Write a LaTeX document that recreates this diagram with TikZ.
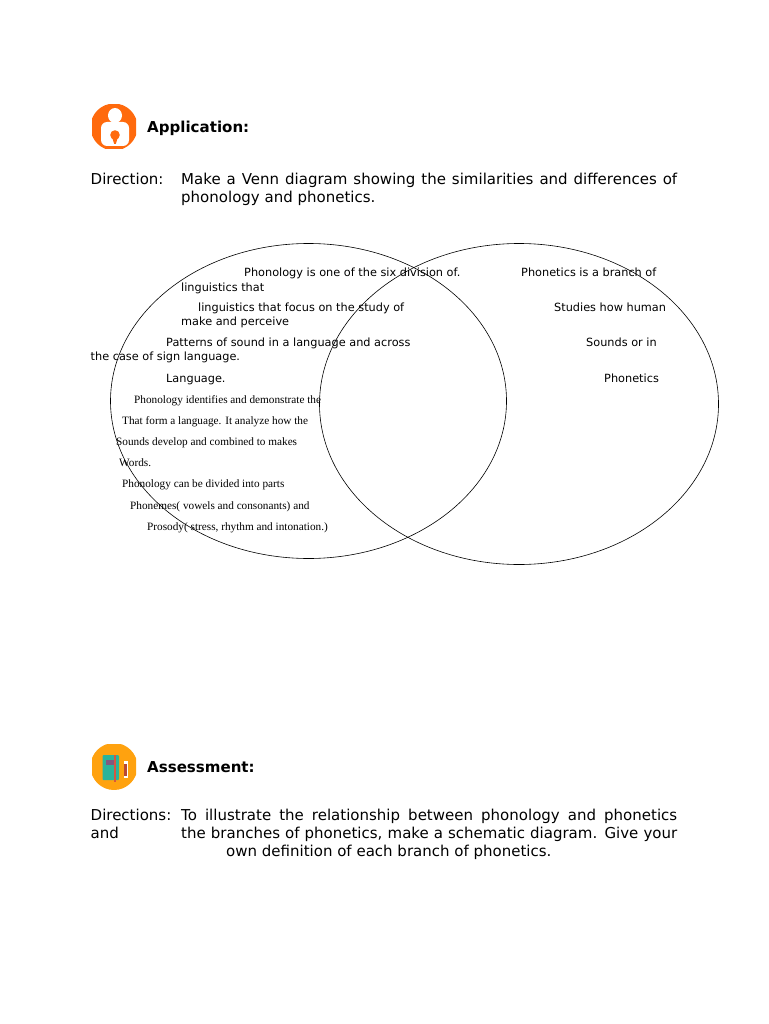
\documentclass[tikz,border=0pt]{standalone}
\usepackage{fontspec}
\setmainfont{DejaVu Sans}
\newfontfamily\bodyserif{Liberation Serif}
\definecolor{iconorange}{HTML}{FF6A0D}
\definecolor{iconamber}{HTML}{FFA20F}
\definecolor{bookteal}{HTML}{2BB39B}
\definecolor{bookred}{HTML}{D9553F}
\tikzset{
  heading/.style={anchor=base west,inner sep=0pt,font=\fontsize{15.05}{16}\selectfont\bfseries},
  bodytext/.style={anchor=base west,inner sep=0pt,font=\fontsize{15}{16}\selectfont},
  venntext/.style={anchor=base west,inner sep=0pt,font=\fontsize{11.3}{13}\selectfont},
  serifline/.style={anchor=base west,inner sep=0pt,font=\bodyserif\fontsize{11.25}{13}\selectfont},
  venn/.style={draw=black,line width=0.6pt}
}
\begin{document}
\begin{tikzpicture}[x=1pt,y=-1pt]
  \useasboundingbox[fill=white] (0,0) rectangle (768,1024);
  % application icon
  \begin{scope}
    \clip (92,105) rectangle (136,149);
    \fill[iconorange] (114,127) circle (23.5);
  \end{scope}
  \fill[white] (115,115.5) ellipse (7 and 7.5);
  \fill[white,rounded corners=6pt] (101,122) rectangle (129,146);
  \fill[iconorange] (115,135) circle (4.8);
  \fill[iconorange] (112,137) -- (118,137) -- (115.8,144) -- (114.2,144) -- cycle;
  % assessment icon
  \begin{scope}
    \clip (92,744) rectangle (136,789);
    \fill[iconamber] (114,766.5) circle (23.5);
  \end{scope}
  \fill[bookteal,rounded corners=1pt] (102.5,755) rectangle (119,780);
  \fill[gray!70!violet] (106,760) rectangle (115,765);
  \fill[bookred] (113.5,755) rectangle (115.5,782);
  \fill[white] (123.5,761) rectangle (127.5,778);
  \fill[bookred!85!black] (124,764) rectangle (127,776);
  % headings
  \node[heading] (apphead) at (147,132.5) {Application:};
  \node[heading] (assesshead) at (147,772) {Assessment:};
  % directions
  \node[bodytext] (dirlabel) at (90.5,184.5) {Direction:};
  \node[bodytext] (dirone) at (181,184.5) {\makebox[496pt][s]{Make a Venn diagram showing the similarities and differences of}};
  \node[bodytext] (dirtwo) at (181,203) {phonology and phonetics.};
  \node[bodytext] (assessone) at (90.5,820.5) {Directions:};
  \node[bodytext] (assessand) at (90.5,838) {and};
  \node[bodytext] (assesstwo) at (181,820.5) {\makebox[496pt][s]{To illustrate the relationship between phonology and phonetics}};
  \node[bodytext] (assessthree) at (181,838) {\makebox[496pt][s]{the branches of phonetics, make a schematic diagram. Give your}};
  \node[bodytext] (assessfour) at (226,856.5) {own definition of each branch of phonetics.};
  % circles
  \draw[venn] (308.5,401) ellipse (198 and 157.5);
  \draw[venn] (519,404) ellipse (199.5 and 160.5);
  % text in left circle
  \node[venntext] (phonoa) at (244,276.5) {Phonology is one of the six division of.};
  \node[venntext] (phonob) at (181,291) {linguistics that};
  \node[venntext] (phonoc) at (198,311.5) {linguistics that focus on the study of};
  \node[venntext] (phonod) at (181,325) {make and perceive};
  \node[venntext] (phonoe) at (166,346.5) {Patterns of sound in a language and across};
  \node[venntext] (phonof) at (90.5,360.5) {the case of sign language.};
  \node[venntext] (phonog) at (166,382) {Language.};
  \node[serifline] (linea) at (134,403) {Phonology identifies and demonstrate the};
  \node[serifline] (lineb) at (122,424.5) {That form a language. It analyze how the};
  \node[serifline] (linec) at (116,445) {Sounds develop and combined to makes};
  \node[serifline] (lined) at (119,466.5) {Words.};
  \node[serifline] (linee) at (122,487.5) {Phonology can be divided into parts};
  \node[serifline] (linef) at (130,509) {Phonemes( vowels and consonants) and};
  \node[serifline] (lineg) at (147,530) {Prosody( stress, rhythm and intonation.)};
  % text in right circle
  \node[venntext] (phonea) at (521,276.5) {Phonetics is a branch of};
  \node[venntext] (phoneb) at (554,311.5) {Studies how human};
  \node[venntext] (phonec) at (586,346.5) {Sounds or in};
  \node[venntext] (phoned) at (604,382) {Phonetics};
\end{tikzpicture}
\end{document}
